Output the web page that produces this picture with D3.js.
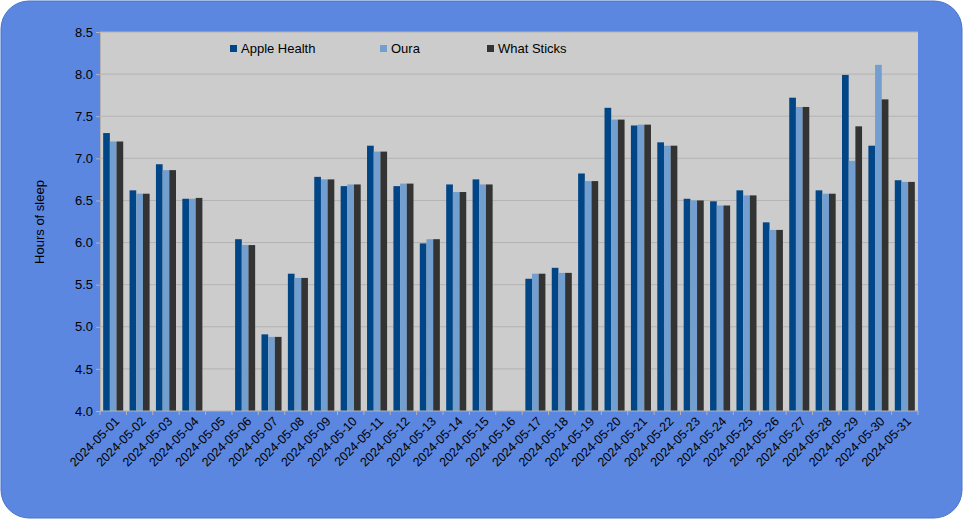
<!DOCTYPE html>
<html><head><meta charset="utf-8">
<script src="https://cdn.jsdelivr.net/npm/d3@7/dist/d3.min.js"></script>
<style>body{margin:0;background:#fff}svg{display:block;font-family:"Liberation Sans",Arial,sans-serif}</style>
</head><body><svg id="c" width="963" height="519"></svg>
<script>
const dates = d3.range(1,32).map(d=>"2024-05-"+String(d).padStart(2,"0"));
const appleHealth = [7.30,6.62,6.93,6.52,null,6.04,4.91,5.63,6.78,6.67,7.15,6.67,5.99,6.69,6.75,null,5.57,5.70,6.82,7.60,7.39,7.19,6.52,6.49,6.62,6.24,7.72,6.62,7.99,7.15,6.74];
const oura =        [7.20,6.58,6.86,6.52,null,5.97,4.88,5.58,6.75,6.69,7.08,6.70,6.04,6.60,6.69,null,5.63,5.64,6.73,7.46,7.40,7.15,6.50,6.44,6.56,6.15,7.61,6.58,6.97,8.11,6.72];
const whatSticks =  [7.20,6.58,6.86,6.53,null,5.97,4.88,5.58,6.75,6.69,7.08,6.70,6.04,6.60,6.69,null,5.63,5.64,6.73,7.46,7.40,7.15,6.50,6.44,6.56,6.15,7.61,6.58,7.38,7.70,6.72];
const seriesNames = ["Apple Health","Oura","What Sticks"];
const colors = ["#004586","#729fcf","#333333"];
const yTicks = [4.0,4.5,5.0,5.5,6.0,6.5,7.0,7.5,8.0,8.5];
const series = [appleHealth, oura, whatSticks];

const svg = d3.select("#c");
svg.append("rect").attr("x",1).attr("y",1).attr("width",961).attr("height",517).attr("rx",28)
  .attr("fill","#5b87e0").attr("stroke","#4a74c9");
const L=100,R=918,T=32,B=411;
svg.append("rect").attr("x",L).attr("y",T).attr("width",R-L).attr("height",B-T).attr("fill","#cccccc");
const x = d3.scaleBand().domain(dates).range([L,R]).paddingInner(0.24).paddingOuter(0.12);
const xs = d3.scaleBand().domain([0,1,2]).range([0,x.bandwidth()]);
const y = d3.scaleLinear().domain([4,8.5]).range([B,T]);
svg.append("g").selectAll("line").data(yTicks.slice(1)).join("line")
  .attr("x1",L).attr("x2",R).attr("y1",d=>y(d)).attr("y2",d=>y(d)).attr("stroke","#b3b3b3");
series.forEach((s,i)=>{
  svg.append("g").selectAll("rect").data(dates.map((d,j)=>({d,v:s[j]})).filter(e=>e.v!=null)).join("rect")
    .attr("x",e=>x(e.d)+xs(i)).attr("width",xs.bandwidth()).attr("y",e=>y(e.v)).attr("height",e=>B-y(e.v))
    .attr("fill",colors[i]);
});
// empty days baseline markers
svg.append("line").attr("x1",L).attr("x2",R).attr("y1",B).attr("y2",B).attr("stroke","#b3b3b3");
const ya = svg.append("g").attr("transform",`translate(${L},0)`).call(d3.axisLeft(y).tickValues(yTicks).tickFormat(d3.format(".1f")).tickSize(4));
ya.select(".domain").attr("stroke","#b3b3b3");
ya.selectAll("line").attr("stroke","#b3b3b3");
ya.selectAll("text").attr("font-size",13).attr("fill","#000").attr("font-family","Liberation Sans, Arial");
const step = (R-L)/31;
const xa = svg.append("g").attr("transform",`translate(0,${B})`).call(d3.axisBottom(x).tickSize(0).tickPadding(0));
xa.select(".domain").remove();
svg.append("g").selectAll("line").data(d3.range(32)).join("line")
  .attr("x1",i=>L+i*step).attr("x2",i=>L+i*step).attr("y1",B).attr("y2",B+4).attr("stroke","#b3b3b3");
xa.selectAll("text").attr("font-size",12.5).attr("fill","#000").attr("font-family","Liberation Sans, Arial")
  .attr("text-anchor","end").attr("dy","0.35em").attr("transform","translate(4,8) rotate(-45)");
svg.append("text").attr("transform","translate(44,222) rotate(-90)").attr("text-anchor","middle")
  .attr("font-size",13).text("Hours of sleep");
const lx=[230,380,487];
seriesNames.forEach((n,i)=>{
  svg.append("rect").attr("x",lx[i]).attr("y",45).attr("width",7).attr("height",7).attr("fill",colors[i]);
  svg.append("text").attr("x",lx[i]+11).attr("y",53).attr("font-size",13).text(n);
});
</script></body></html>
